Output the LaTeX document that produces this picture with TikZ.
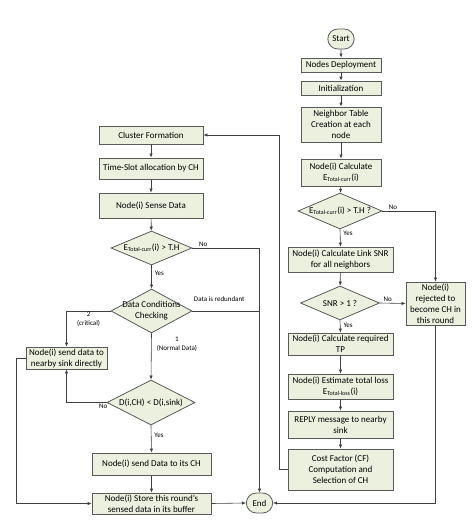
\documentclass[tikz,border=0pt]{standalone}
\usepackage{fontspec}
\setmainfont{Carlito}
\usetikzlibrary{arrows.meta, positioning, shapes.geometric, shapes.misc}
\definecolor{boxfill}{HTML}{EBF1DE}
\definecolor{boxline}{HTML}{595959}
\definecolor{lineclr}{HTML}{404040}
% text that does not widen a diamond
\newcommand{\diatext}[1]{\makebox[0pt]{#1}}
\tikzset{x = 1pt, y = -1pt,
         >= {Latex[length = 4pt, width = 3.4pt]},
         every node/.style = {font = \fontsize{9}{11}\selectfont},
         block/.style = {draw = boxline, fill = boxfill, line width = 0.8pt,
                         align = center, inner sep = 1pt},
         decision/.style = {diamond, draw = boxline, fill = boxfill,
                            line width = 0.8pt, align = center,
                            inner sep = 0pt, aspect = 2.25},
         terminal/.style = {rounded rectangle, draw = boxline, fill = boxfill,
                            line width = 0.8pt, minimum width = 33pt,
                            minimum height = 20pt},
         flow/.style = {->, draw = lineclr, line width = 0.6pt},
         link/.style = {draw = lineclr, line width = 0.6pt},
         lbl/.style = {font = \fontsize{7}{8.5}\selectfont, inner sep = 1pt}}

\begin{document}
\begin{tikzpicture}
        \useasboundingbox (0,0) rectangle (474,525);

        % right column: cluster head election
        \node[terminal]                                          (start)   at (341,39)    {Start};
        \node[block, minimum width = 80pt, minimum height = 14pt] (deploy) at (341,65)    {Nodes Deployment};
        \node[block, minimum width = 80pt, minimum height = 14pt] (init)   at (341,88)    {Initialization};
        \node[block, minimum width = 80pt, minimum height = 35pt] (table)  at (341,124.5) {Neighbor Table\\Creation at each\\node};
        \node[block, minimum width = 80pt, minimum height = 27pt] (ecalc)  at (341,172.5) {Node(i) Calculate\\E\textsubscript{Total-curr}(i)};
        \node[decision, minimum width = 84pt, minimum height = 36pt] (echk) at (340,211)  {\diatext{E\textsubscript{Total-curr}(i) > T.H ?}};
        \node[block, minimum width = 105pt, minimum height = 25pt] (snr)   at (340.5,259.5) {Node(i) Calculate Link SNR\\for all neighbors};
        \node[decision, minimum width = 79pt, minimum height = 34pt] (snrchk) at (340,303) {\diatext{SNR > 1 ?}};
        \node[block, minimum width = 59pt, minimum height = 43pt] (rej)    at (435.5,303.5) {Node(i)\\rejected to\\become CH in\\this round};
        \node[block, minimum width = 105pt, minimum height = 22pt] (tp)    at (340.5,344)   {Node(i) Calculate required\\TP};
        \node[block, minimum width = 105pt, minimum height = 25pt] (loss)  at (340.5,386.5) {Node(i) Estimate total loss\\E\textsubscript{Total-loss}(i)};
        \node[block, minimum width = 105pt, minimum height = 27pt] (reply) at (340.5,424.5) {REPLY message to nearby\\sink};
        \node[block, minimum width = 105pt, minimum height = 41pt] (cf)    at (340.5,469.5) {Cost Factor (CF)\\Computation and\\Selection of CH};

        % left column: data transmission
        \node[block, minimum width = 104pt, minimum height = 18pt] (cluster) at (151,135)   {Cluster Formation};
        \node[block, minimum width = 104pt, minimum height = 21pt] (slot)    at (151,168.5) {Time-Slot allocation by CH};
        \node[block, minimum width = 104pt, minimum height = 25pt] (sense)   at (151,205.5) {Node(i) Sense Data};
        \node[decision, minimum width = 81pt, minimum height = 34pt] (echk2) at (151.5,248) {\diatext{E\textsubscript{Total-curr}(i) > T.H}};
        \node[decision, minimum width = 81pt, minimum height = 44pt] (cond)  at (151.5,311) {\diatext{Data Conditions}\\\diatext{Checking}};
        \node[block, minimum width = 81pt, minimum height = 22pt] (direct)   at (66.5,358)  {Node(i) send data to\\nearby sink directly};
        \node[decision, minimum width = 88pt, minimum height = 45pt] (dist)  at (151,402.5) {\diatext{D(i,CH) < D(i,sink)}};
        \node[block, minimum width = 119pt, minimum height = 22pt] (tosend)  at (151.5,464) {Node(i) send Data to its CH};
        \node[block, minimum width = 119pt, minimum height = 21pt] (store)   at (151.5,503.5) {Node(i) Store this round's\\sensed data in its buffer};
        \node[terminal]                                            (end)     at (259.5,503) {End};

        \coordinate (loopR) at (279,469.5);
        \coordinate (loopL) at (16,358);

        % right column connectors
        \draw[flow] (start)  -- (deploy);
        \draw[flow] (deploy) -- (init);
        \draw[flow] (init)   -- (table);
        \draw[flow] (table)  -- (ecalc);
        \draw[flow] (ecalc)  -- (echk);
        \draw[flow] (echk.east) -| node[lbl, pos = 0.1, above] {No} (rej.north);
        \draw[flow] (echk.south) -- node[lbl, pos = 0.25, right, xshift = 2pt] {Yes} (snr.north);
        \draw[flow] (snr) -- (snrchk);
        \draw[flow] (snrchk.east) -- node[lbl, pos = 0.3, above] {No} (rej.west);
        \draw[flow] (snrchk.south) -- node[lbl, pos = 0.4, right, xshift = 2pt] {Yes} (tp.north);
        \draw[flow] (tp)    -- (loss);
        \draw[flow] (loss)  -- (reply);
        \draw[flow] (reply) -- (cf);
        \draw[flow] (cf.west) -- (loopR) |- (cluster.east);
        \draw[flow] (rej.south) |- (end.east);

        % left column connectors
        \draw[flow] (cluster) -- (slot);
        \draw[flow] (slot)    -- (sense);
        \draw[flow] (sense)   -- (echk2);
        \draw[flow] (echk2.east) -| node[lbl, pos = 0.08, above] {No} (end.north);
        \draw[flow] (echk2.south) -- node[lbl, pos = 0.33, right, xshift = 2pt] {Yes} (cond.north);
        \draw[link] (cond.east) -- node[lbl, pos = 0.4, above, yshift = 8pt] {Data is redundant} (cond.east -| end.north);
        \draw[flow] (cond.west) -| node[lbl, pos = 0.25, below, align = center] {2\\(critical)} (direct.north);
        \draw[flow] (cond.south) -- node[lbl, pos = 0.05, anchor = north west, xshift = 4pt, align = center] {1\\(Normal Data)} (dist.north);
        \draw[flow] (dist.west) -| node[lbl, pos = 0, below left, xshift = 2pt] {No} (direct.south);
        \draw[flow] (dist.south) -- node[lbl, pos = 0.35, right, xshift = 2pt] {Yes} (tosend.north);
        \draw[flow] (tosend) -- (store);
        \draw[flow] (direct.west) -- (loopL) |- (store.west);
        \draw[flow] (store.east) -- (end.west);
    \end{tikzpicture}
\end{document}
